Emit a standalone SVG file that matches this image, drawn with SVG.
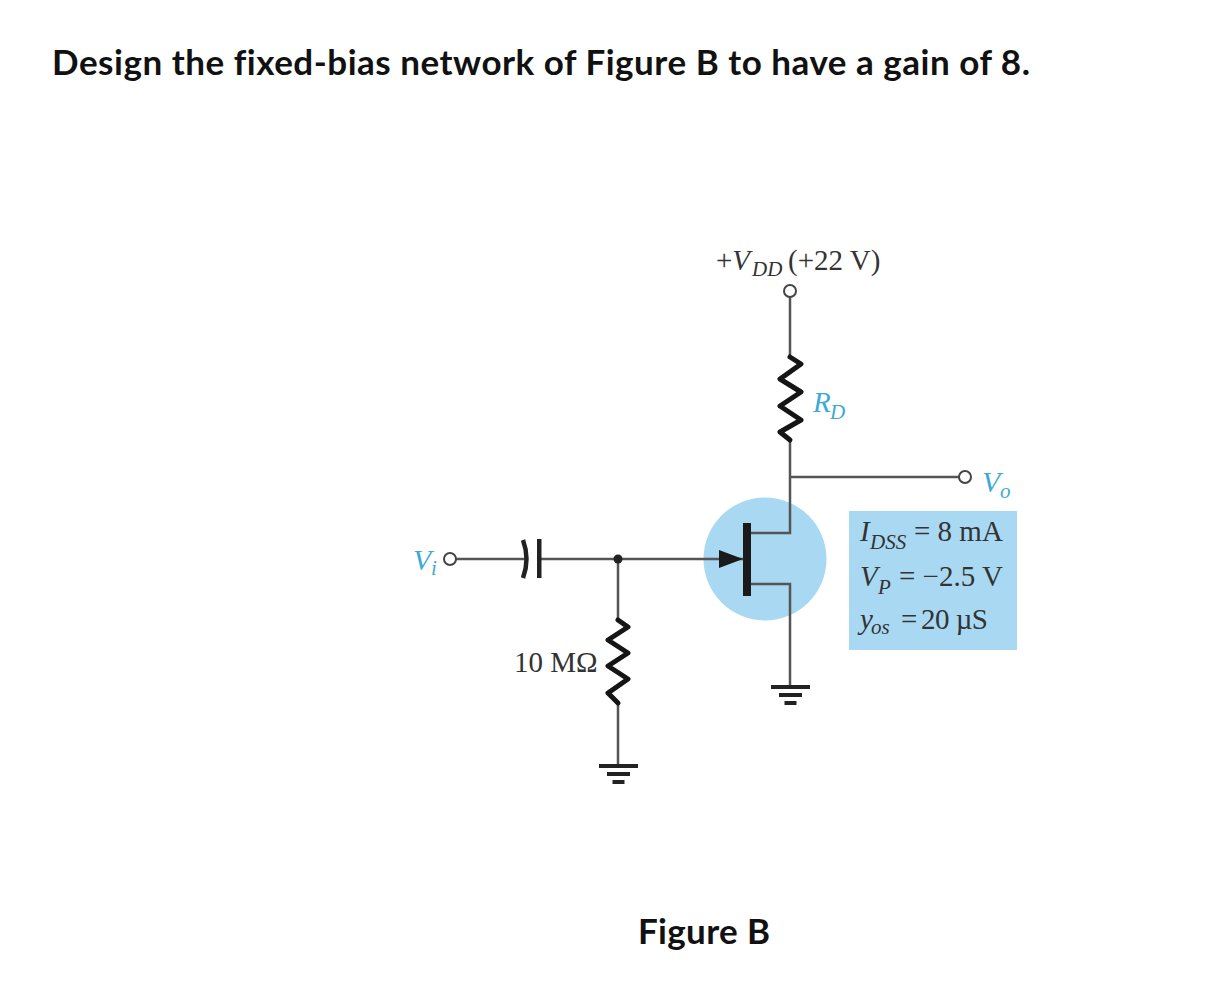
<svg xmlns="http://www.w3.org/2000/svg" width="1212" height="985" viewBox="0 0 1212 985">
<style>
.t{font-family:"Lato","Open Sans",sans-serif;font-weight:700;font-size:35px;fill:#111;font-variant-ligatures:none}
.s{font-family:"Liberation Serif",serif;font-size:29px;fill:#333}
.i{font-style:italic}
.b{fill:#3fa9d6}
.sub{font-size:21px;font-style:italic}
.w{fill:none;stroke:#555;stroke-width:2.500}
.r{fill:none;stroke:#151515;stroke-width:5;stroke-linejoin:round;stroke-linecap:round}
.o{fill:#fff;stroke:#444;stroke-width:2}
.g{fill:#222}
</style>
<defs>
<g id="gnd"><rect x="-19.500" y="-2" width="39" height="4" class="g"/><rect x="-11.500" y="6" width="23" height="4" class="g"/><rect x="-6" y="14" width="12" height="4" class="g"/></g>
</defs>
<rect width="1212" height="985" fill="#fff"/>
<text id="title" class="t" x="52" y="75" textLength="978" lengthAdjust="spacing">Design the fixed-bias network of Figure B to have a gain of 8.</text>
<g id="highlight-jfet"><circle cx="765" cy="559" r="61.500" fill="#a9d9f2"/></g>
<g id="connectors">
<path class="w" d="M790 297V357M790 440V533H751M790 477H959M751 584H790V687M456 559H525M539 559H743M618 559V620M618 703V766"/>
</g>
<g id="vdd"><circle class="o" cx="790" cy="291" r="6"/><text class="s" x="716" y="270">+<tspan class="i">V</tspan><tspan class="sub" dy="6" x="752">DD</tspan><tspan dy="-6" x="788">(+22 V)</tspan></text></g>
<g id="rd"><path class="r" d="M790 357L801 364L780 379L801 392L780 406L801 420L780 432L790 440"/><text class="s b" x="813" y="412"><tspan class="i">R</tspan><tspan class="sub" dy="7" x="830">D</tspan></text></g>
<g id="vo"><circle class="o" cx="965" cy="477" r="6"/><text class="s b" x="982" y="492"><tspan class="i" font-size="30">V</tspan><tspan class="sub" dy="6" x="1000" font-size="19">o</tspan></text></g>
<g id="jfet"><rect x="743" y="523" width="8" height="73" fill="#1a1a1a"/><path d="M743 559L719 550V568Z" fill="#1a1a1a"/></g>
<g id="gnd-d"><use href="#gnd" x="790.500" y="687"/></g>
<g id="params"><rect x="849" y="511" width="168" height="139" fill="#a9d9f2"/>
<text class="s" x="860" y="541"><tspan class="i">I</tspan><tspan class="sub" dy="8" x="870">DSS</tspan><tspan dy="-8" x="914">= 8 mA</tspan></text>
<text class="s" x="860" y="586"><tspan class="i">V</tspan><tspan class="sub" dy="8" x="878">P</tspan><tspan dy="-8" x="899">= −2.5 V</tspan></text>
<text class="s" x="860" y="629"><tspan class="i">y</tspan><tspan class="sub" dy="5" x="871">os</tspan><tspan dy="-5" x="901">=</tspan><tspan x="921" textLength="67">20 µS</tspan></text>
</g>
<g id="vi"><circle class="o" cx="450" cy="559" r="6"/><text class="s b" x="413" y="570"><tspan class="i" font-size="30">V</tspan><tspan class="sub" dy="5" x="431" font-size="19">i</tspan></text></g>
<g id="cap"><path d="M523 540Q530 559 523 578" fill="none" stroke="#222" stroke-width="4.500"/><rect x="537" y="539" width="4.500" height="39" class="g"/></g>
<g id="junction"><circle cx="618" cy="559" r="4.500" fill="#222"/></g>
<g id="rg"><path class="r" d="M618 620L628 627L608 640L628 653L608 666L628 679L608 693L618 703"/><text class="s" x="514" y="672">10 MΩ</text></g>
<g id="gnd-g"><use href="#gnd" x="618.500" y="766"/></g>
<text id="caption" class="t" x="638" y="944" textLength="132">Figure B</text>
</svg>
